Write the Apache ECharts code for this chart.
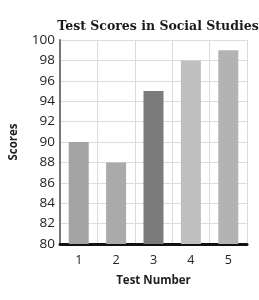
<!DOCTYPE html>
<html><head><meta charset="utf-8">
<script src="https://cdn.jsdelivr.net/npm/echarts@6/dist/echarts.min.js"></script>
<style>html,body{margin:0;padding:0;background:#fff}#c{width:259px;height:300px}</style>
</head><body><div id="c"></div>
<script>
const categories = ['1', '2', '3', '4', '5'];
const scores = [90, 88, 95, 98, 99];
const barColors = ['#a3a3a3', '#aaaaaa', '#7b7b7b', '#c0c0c0', '#b3b3b3'];
const yTicks = [80, 82, 84, 86, 88, 90, 92, 94, 96, 98, 100];

const chart = echarts.init(document.getElementById('c'), null, {renderer: 'canvas'});
chart.setOption({
  animation: false,
  backgroundColor: '#fff',
  title: {
    text: 'Test Scores in Social Studies',
    left: 153, top: 15, textAlign: 'center',
    textStyle: {fontFamily: 'DejaVu Serif', fontWeight: 'bold', fontSize: 12.5, color: '#1a1a1a'}
  },
  grid: {left: 59, top: 40, right: 12, bottom: 56},
  xAxis: {
    type: 'category', data: categories,
    name: 'Test Number', nameLocation: 'middle', nameGap: 31,
    nameTextStyle: {fontFamily: 'Open Sans', fontWeight: 'bold', fontSize: 11.5, color: '#222'},
    axisLine: {show: true, lineStyle: {color: '#111', width: 3}},
    axisTick: {show: false},
    axisLabel: {fontFamily: 'Open Sans', fontSize: 12.5, color: '#222', margin: 10},
    splitLine: {show: true, lineStyle: {color: '#dcdcdc', width: 1}}
  },
  yAxis: {
    type: 'value', min: 80, max: 100, interval: 2,
    name: 'Scores', nameLocation: 'middle', nameGap: 40, nameRotate: 90,
    nameTextStyle: {fontFamily: 'Open Sans', fontWeight: 'bold', fontSize: 11.5, color: '#222'},
    axisLine: {show: true, lineStyle: {color: '#777', width: 2}},
    axisTick: {show: false},
    axisLabel: {fontFamily: 'Open Sans', fontSize: 13.5, color: '#222', margin: 5,
      formatter: v => yTicks.includes(v) ? String(v) : ''},
    splitLine: {show: true, lineStyle: {color: '#dcdcdc', width: 1}}
  },
  series: [{
    type: 'bar', barWidth: 20,
    data: scores.map((v, i) => ({value: v, itemStyle: {color: barColors[i]}}))
  }]
});
</script></body></html>
